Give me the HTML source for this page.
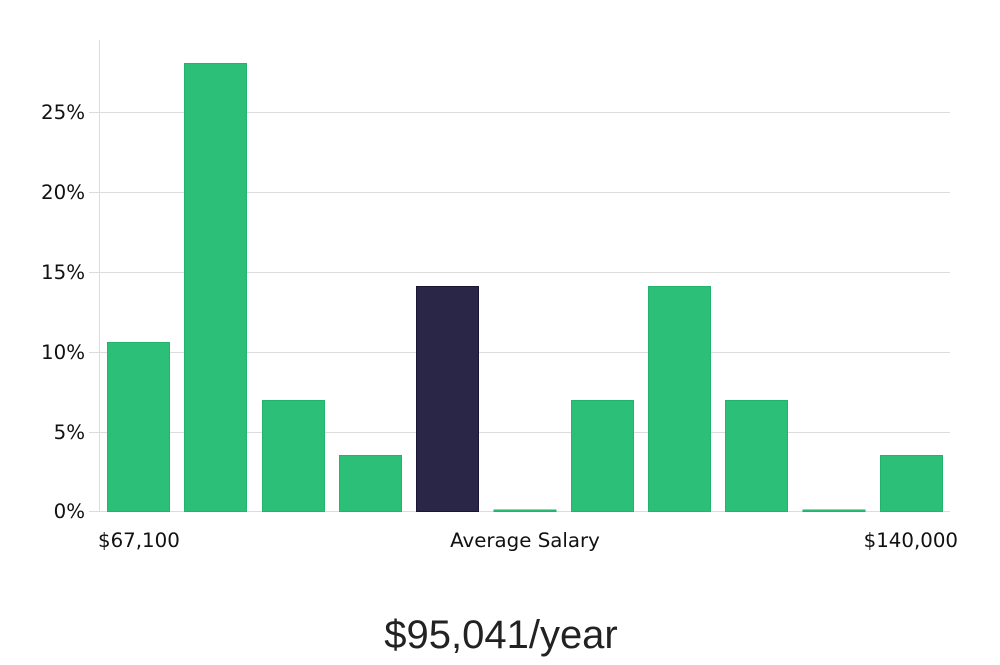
<!DOCTYPE html>
<html><head><style>
body{margin:0;background:#fff;}
svg text{font-family:"DejaVu Sans","Liberation Sans",sans-serif;fill:#111;}
</style></head><body>
<svg width="1000" height="660" xmlns="http://www.w3.org/2000/svg">
<g stroke="#dcdcdc" stroke-width="1">
<line x1="89" y1="112.5" x2="950" y2="112.5"/>
<line x1="89" y1="192.5" x2="950" y2="192.5"/>
<line x1="89" y1="272.5" x2="950" y2="272.5"/>
<line x1="89" y1="352.5" x2="950" y2="352.5"/>
<line x1="89" y1="432.5" x2="950" y2="432.5"/>
<line x1="89" y1="511.5" x2="950" y2="511.5"/>
<line x1="99.5" y1="40" x2="99.5" y2="511"/>
</g>
<g font-size="19.8" text-anchor="end">
<text x="85" y="119">25%</text>
<text x="85" y="199">20%</text>
<text x="85" y="279">15%</text>
<text x="85" y="359">10%</text>
<text x="85" y="439">5%</text>
<text x="85" y="518">0%</text>
</g>
<g fill="#2bbf77" stroke="#22b36c" stroke-width="1">
<rect x="107.5" y="342.5" width="62" height="169"/>
<rect x="184.5" y="63.5" width="62" height="448"/>
<rect x="262.5" y="400.5" width="62" height="111"/>
<rect x="339.5" y="455.5" width="62" height="56"/>
<rect x="494" y="510" width="62" height="1.5"/>
<rect x="571.5" y="400.5" width="62" height="111"/>
<rect x="648.5" y="286.5" width="62" height="225"/>
<rect x="725.5" y="400.5" width="62" height="111"/>
<rect x="803" y="510" width="62" height="1.5"/>
<rect x="880.5" y="455.5" width="62" height="56"/>
</g>
<rect x="416.5" y="286.5" width="62" height="225" fill="#2a2647" stroke="#1a1635"/>
<g font-size="19.8">
<text x="98" y="547">$67,100</text>
<text x="525" y="547" text-anchor="middle">Average Salary</text>
<text x="958" y="547" text-anchor="end">$140,000</text>
</g>
<text x="501" y="648" text-anchor="middle" font-size="40" style="font-family:'Liberation Sans',sans-serif;fill:#222">$95,041/year</text>
</svg>
</body></html>
